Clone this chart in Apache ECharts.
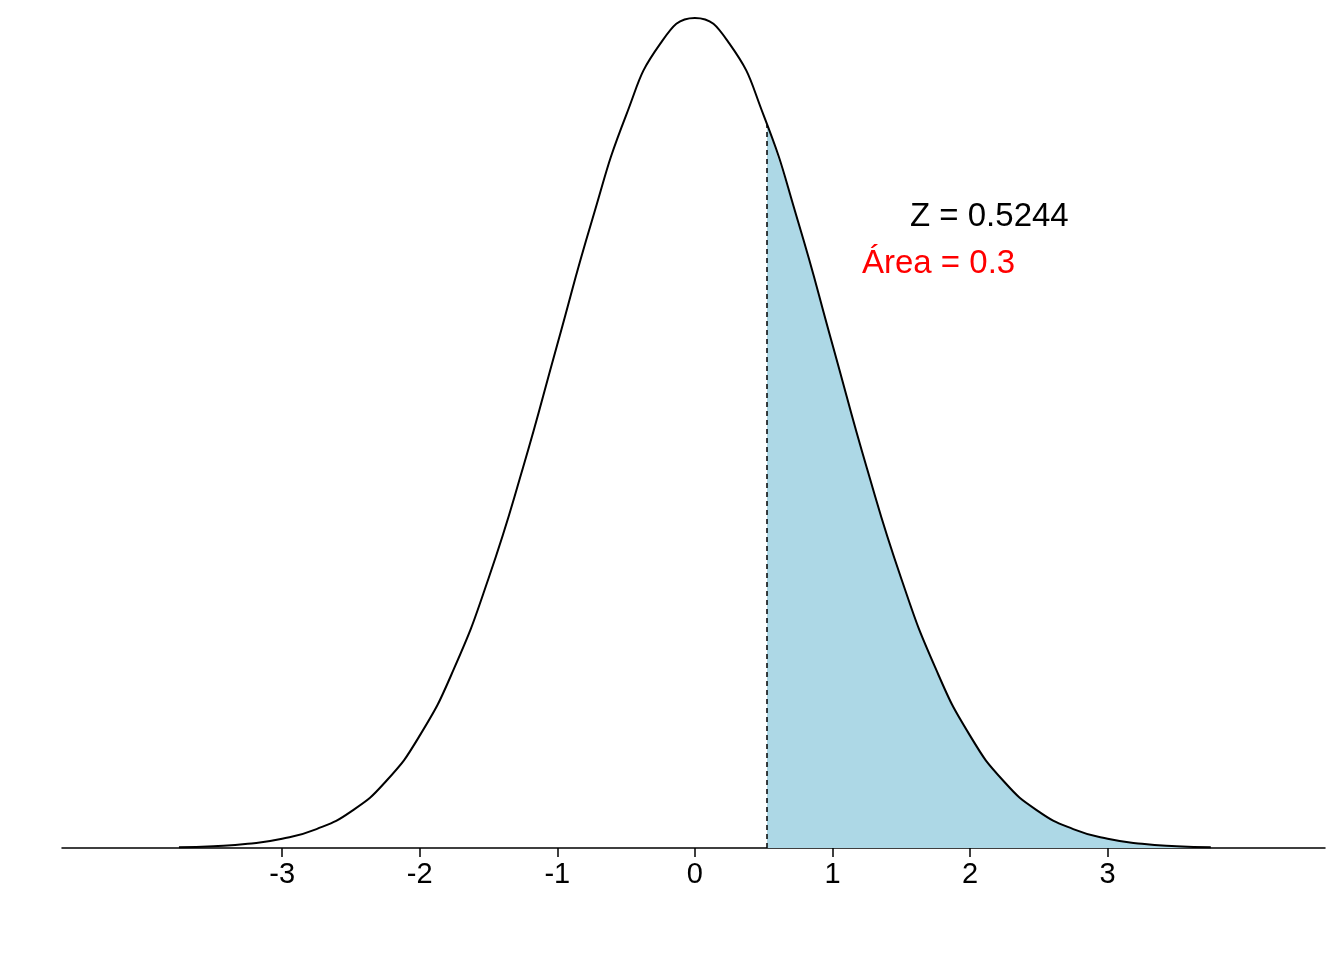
<!DOCTYPE html>
<html>
<head>
<meta charset="utf-8">
<script src="https://cdn.jsdelivr.net/npm/echarts@6/dist/echarts.min.js"></script>
<style>html,body{margin:0;padding:0;background:#fff}#main{width:1344px;height:960px}</style>
</head>
<body>
<div id="main"></div>
<script>
// densidad
var xs = [-3.75,-3.5,-3.25,-3,-2.75,-2.5,-2.25,-2,-1.75,-1.5,-1.25,-1,-0.75,-0.5,-0.25,0,0.25,0.5,0.75,1,1.25,1.5,1.75,2,2.25,2.5,2.75,3,3.25,3.5,3.75];
var ys = [0.0004,0.0009,0.0020,0.0044,0.0091,0.0175,0.0317,0.0540,0.0863,0.1295,0.1826,0.2420,0.3011,0.3521,0.3867,0.3989,0.3867,0.3521,0.3011,0.2420,0.1826,0.1295,0.0863,0.0540,0.0317,0.0175,0.0091,0.0044,0.0020,0.0009,0.0004];
var zValue = 0.5244;
var zDensity = 0.3477;
var tickValues = [-3,-2,-1,0,1,2,3];

var curve = [];
var tail = [[zValue, zDensity]];
for (var i = 0; i < xs.length; i++) {
	curve.push([xs[i], ys[i]]);
	if (xs[i] > zValue) tail.push([xs[i], ys[i]]);
}

var chart = echarts.init(document.getElementById('main'));
chart.setOption({
	animation: false,
	grid: { left: 62, right: 19, top: 18, bottom: 112 },
	xAxis: {
		type: 'value', min: -4.6, max: 4.58,
		axisLine: { lineStyle: { color: '#000', width: 1.5 } },
		axisTick: { show: true, customValues: tickValues, length: 9, lineStyle: { color: '#000', width: 1.5 } },
		axisLabel: { customValues: tickValues, color: '#000', fontSize: 29, fontFamily: 'Liberation Sans, Arial', margin: 12 },
		splitLine: { show: false }
	},
	yAxis: { type: 'value', min: 0, max: 0.3989, show: false },
	series: [{
		type: 'line', data: tail, smooth: true, symbol: 'none',
		lineStyle: { width: 0 }, areaStyle: { color: '#add8e6', opacity: 1 }, z: 1
	}, {
		type: 'line', data: curve, smooth: true, symbol: 'none',
		lineStyle: { color: '#000', width: 2 }, z: 3,
		markLine: {
			symbol: 'none', silent: true, label: { show: false },
			lineStyle: { color: '#000', type: [5, 4], width: 1.5 },
			data: [[{ coord: [zValue, 0] }, { coord: [zValue, zDensity] }]]
		}
	}],
	graphic: [
		{ type: 'text', left: 910, top: 200, style: { text: 'Z = 0.5244', fill: '#000', fontSize: 33, fontFamily: 'Liberation Sans, Arial' } },
		{ type: 'text', left: 862, top: 247, style: { text: 'Área = 0.3', fill: '#ff0000', fontSize: 33, fontFamily: 'Liberation Sans, Arial' } }
	]
});
</script>
</body>
</html>
